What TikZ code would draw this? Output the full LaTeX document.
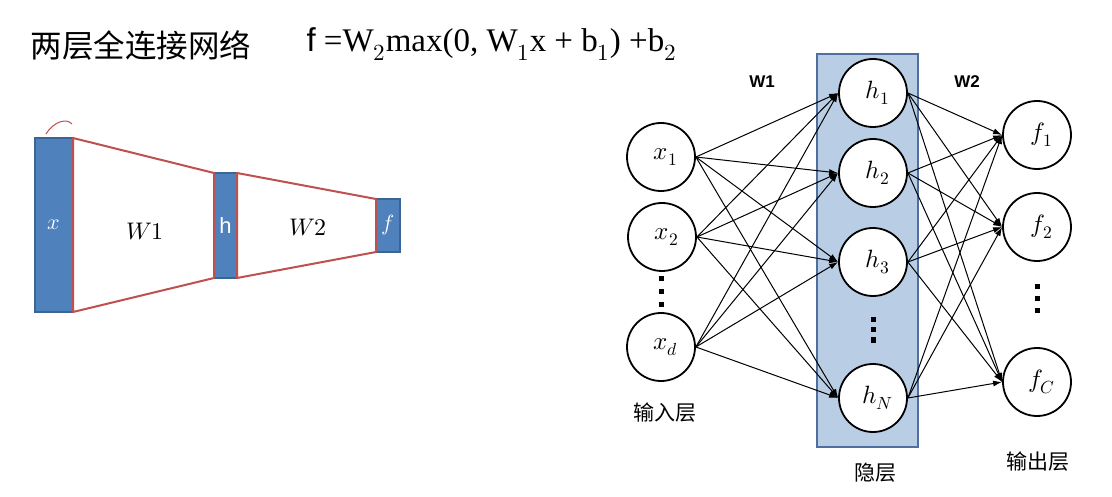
\documentclass[tikz,border=0pt]{standalone}
\usepackage{fontspec}
\usepackage{unicode-math}
\setmathfont{Latin Modern Math}
\newfontfamily\cjk{Noto Sans CJK SC}
\newfontfamily\lserif{Liberation Serif}
\newfontfamily\lsans{Liberation Sans}
\usetikzlibrary{arrows.meta}
\definecolor{blockblue}{HTML}{4F81BD}
\definecolor{blockedge}{HTML}{3A6595}
\definecolor{trapred}{HTML}{C0504D}
\definecolor{hidfill}{HTML}{B9CDE5}
\definecolor{hidedge}{HTML}{4F6F9F}
\newcommand{\nlab}[1]{\hspace*{9pt}$#1$}
\tikzset{
  neuron/.style={circle,draw=black,line width=1.8pt,fill=white,minimum size=68pt,inner sep=0pt,font=\fontsize{25}{27}\selectfont},
  edge/.style={line width=1pt,-{Latex[length=9pt,width=6pt]}},
  blockbox/.style={draw=blockedge,line width=1.5pt,fill=blockblue,inner sep=0pt,outer sep=0pt,text=white,font=\fontsize{22}{24}\selectfont},
  redline/.style={draw=trapred,line width=2pt,line join=round},
  cjklabel/.style={font=\cjk\fontsize{21}{23}\selectfont},
  wlabel/.style={font=\lsans\bfseries\fontsize{17}{19}\selectfont},
  dotmark/.style={fill=black}
}
\begin{document}
\begin{tikzpicture}[x=1pt,y=-1pt]
\useasboundingbox (0,0) rectangle (1112,497);
\fill[white] (0,0) rectangle (1112,497);
% title
\node[anchor=west,font=\cjk\fontsize{31.5}{33}\selectfont] (title) at (27,45) {两层全连接网络};
\node[anchor=west,font=\lserif\fontsize{33}{35}\selectfont] (formula) at (303,44) {{\lsans f} =W$_2$max(0, W$_1$x + b$_1$) +b$_2$};
% left block figure
\node[blockbox,minimum width=38pt,minimum height=174pt] (xr) at (54,225) {$x$};
\node[blockbox,minimum width=23pt,minimum height=105pt] (hr) at (225.5,225.5) {\lsans h};
\node[blockbox,minimum width=24pt,minimum height=53pt] (fr) at (388,225.5) {$f$};
\draw[redline] (xr.north east) -- (hr.north west) -- (hr.south west) -- (xr.south east) -- cycle;
\draw[redline] (hr.north east) -- (fr.north west) -- (fr.south west) -- (hr.south east) -- cycle;
\node[font=\fontsize{24}{26}\selectfont] (w1l) at (145,232) {$W1$};
\node[font=\fontsize{24}{26}\selectfont] (w2l) at (308,228) {$W2$};
\draw[trapred,line width=1pt] (46,134) .. controls (54,121) and (67,118) .. (72,124);
% hidden layer band
\node[draw=hidedge,fill=hidfill,line width=1.5pt,minimum width=101pt,minimum height=393pt,inner sep=0pt] (band) at (867.5,250.5) {};
% neurons
\node[neuron] (x1) at (661,157) {\nlab{x_1}};
\node[neuron] (x2) at (662,237) {\nlab{x_2}};
\node[neuron] (xd) at (661,347) {\nlab{x_d}};
\node[neuron] (h1) at (873,93) {\nlab{h_1}};
\node[neuron] (h2) at (873,173) {\nlab{h_2}};
\node[neuron] (h3) at (873,262) {\nlab{h_3}};
\node[neuron] (hN) at (873,398) {\nlab{h_N}};
\node[neuron] (f1) at (1037,135) {\nlab{f_1}};
\node[neuron] (f2) at (1037,227) {\nlab{f_2}};
\node[neuron] (fC) at (1037,382) {\nlab{f_C}};
% connectors
\foreach \i in {x1,x2,xd}{
  \foreach \j in {h1,h2,h3,hN}{
    \draw[edge] (\i.east) -- (\j.west);
  }
}
\foreach \i in {h1,h2,h3,hN}{
  \foreach \j in {f1,f2,fC}{
    \draw[edge] (\i.east) -- (\j.west);
  }
}
% vertical dots
\foreach \cx/\cy in {661/279,661/292,661/305, 873/320,873/330,873/340, 1037/287,1037/299,1037/311}{
  \fill[dotmark] (\cx-2.5,\cy-2.5) rectangle (\cx+2.5,\cy+2.5);
}
% labels
\node[wlabel] (lw1) at (762,82) {W1};
\node[wlabel] (lw2) at (967,82) {W2};
\node[cjklabel] (lin) at (665,413) {输入层};
\node[cjklabel] (lhid) at (875,473) {隐层};
\node[cjklabel] (lout) at (1038,462) {输出层};
\end{tikzpicture}
\end{document}
